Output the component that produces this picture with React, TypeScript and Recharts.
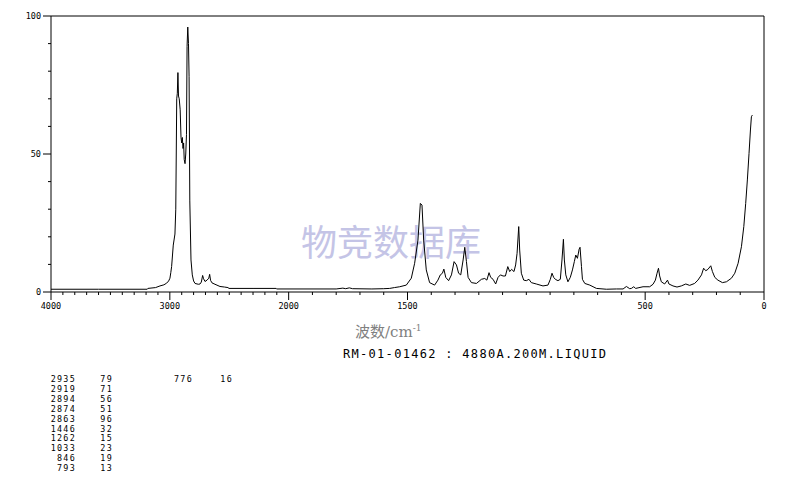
import { LineChart, Line, XAxis, YAxis, ReferenceLine } from "recharts";

// spectrum (cm-1, intensity)
const wavenumbers = [
  4000, 3600, 3190, 3185, 3120, 3083, 3050, 3027, 3010, 2999, 2992, 2985, 2971, 2957, 2950, 2946,
  2942, 2937, 2932, 2927, 2921, 2913, 2906, 2900, 2895, 2889, 2884, 2879, 2872, 2866, 2860, 2855,
  2849, 2843, 2838, 2832, 2822, 2811, 2800, 2788, 2760, 2746, 2735, 2724, 2716, 2704, 2687, 2672,
  2665, 2657, 2645, 2620, 2578, 2540, 2511, 2502, 2300, 2105, 2100, 1800, 1772, 1760, 1745, 1731,
  1650, 1600, 1575, 1555, 1533, 1505, 1484, 1470, 1456, 1446, 1439, 1432, 1421, 1407, 1386, 1372,
  1362, 1353, 1347, 1339, 1327, 1315, 1304, 1294, 1285, 1276, 1266, 1259, 1252, 1245, 1231, 1210,
  1189, 1175, 1166, 1157, 1150, 1140, 1129, 1119, 1109, 1098, 1088, 1078, 1070, 1062, 1052, 1045,
  1039, 1032, 1028, 1021, 1011, 1000, 989, 979, 958, 930, 909, 899, 892, 885, 878, 867,
  857, 850, 844, 840, 834, 825, 815, 806, 798, 792, 785, 778, 774, 768, 764, 754,
  733, 705, 663, 621, 593, 579, 565, 558, 548, 540, 530, 509, 481, 467, 457, 450,
  444, 439, 432, 418, 406, 400, 383, 366, 348, 329, 313, 292, 278, 263, 254, 245,
  236, 224, 217, 207, 194, 175, 158, 137, 123, 109, 95, 85, 77, 70, 63, 57,
  53, 49,
];
const intensities = [
  1.0, 1.0, 1.0, 1.3, 1.6, 2.2, 2.6, 3.2, 4.0, 5.0, 7.0, 9.2, 17, 21, 30, 50,
  70, 72, 79.5, 71, 70, 66, 56, 54, 56, 52, 54, 48, 46.5, 50, 57, 89,
  96, 90, 78, 33, 11.6, 6.2, 4.0, 3.1, 2.8, 2.9, 3.6, 6.0, 4.8, 3.8, 4.3, 5.0,
  6.4, 4.2, 3.3, 2.8, 2.0, 1.8, 1.6, 1.3, 1.3, 1.3, 1.1, 1.1, 1.4, 1.2, 1.5, 1.2,
  1.1, 1.2, 1.3, 1.6, 1.9, 2.5, 5.0, 10.4, 18.8, 32.1, 31.5, 18.8, 8.0, 3.4, 2.5, 4.3,
  6.2, 6.8, 8.3, 5.3, 4.1, 6.2, 11.0, 9.8, 6.8, 6.2, 11.6, 16.2, 11.0, 5.3, 3.4, 3.1,
  4.6, 4.9, 4.3, 7.0, 5.3, 4.6, 2.9, 5.3, 6.2, 5.8, 5.8, 9.2, 7.4, 8.2, 7.4, 9.8,
  14.0, 23.7, 15.2, 6.8, 4.3, 4.1, 4.6, 3.4, 2.9, 2.2, 2.5, 4.6, 6.8, 5.3, 4.6, 4.1,
  4.6, 11.6, 19.1, 11.6, 6.2, 3.7, 5.3, 8.0, 11.0, 13.4, 12.2, 15.5, 16.2, 9.2, 4.6, 3.1,
  2.5, 1.3, 1.0, 1.1, 1.1, 2.0, 1.2, 1.3, 1.9, 1.3, 1.5, 1.9, 1.9, 2.8, 4.3, 6.8,
  8.6, 5.8, 3.7, 2.9, 4.3, 2.9, 2.2, 1.8, 2.2, 2.9, 2.4, 3.1, 4.3, 6.2, 8.6, 7.7,
  8.2, 9.5, 7.4, 5.3, 4.3, 3.4, 3.7, 5.0, 6.8, 10.4, 16.4, 23.7, 32.1, 40.6, 50.2, 58.7,
  63.5, 64.1,
];

// peak list printed below the chart
const peakWn = [2935, 2919, 2894, 2874, 2863, 1446, 1262, 1033, 846, 793];
const peakInt = [79, 71, 56, 51, 96, 32, 15, 23, 19, 13];
const peakWn2 = [776];
const peakInt2 = [16];

const xLabelTicks = [4000, 3000, 2000, 1500, 500, 0];
const yTicks = [0, 10, 20, 30, 40, 50, 60, 70, 80, 90, 100];
const yLabelTicks = [0, 50, 100];

// above 2000 cm-1 the axis is squeezed to half scale
const toAxis = (wn: number) => (wn <= 2000 ? wn : 2000 + (wn - 2000) / 2);
const fromAxis = (p: number) => (p <= 2000 ? p : 2000 + (p - 2000) * 2);

const data = wavenumbers.map((wn, i) => ({ p: toAxis(wn), v: intensities[i] }));
const xTicks = Array.from({ length: 41 }, (_, i) => toAxis(i * 100));

const mono = "'DejaVu Sans Mono', 'Liberation Mono', monospace";
const rowH = 9.9;

function XTick(props: any) {
  const { x, y, payload } = props;
  const wn = Math.round(fromAxis(payload.value));
  const major = xLabelTicks.includes(wn);
  return (
    <g>
      <line x1={x} x2={x} y1={y} y2={y + (major ? 8 : 3)} stroke="#000" />
      {major && (
        <text x={x} y={y + 16.5} textAnchor="middle" fontSize={8.5} fontFamily={mono} fill="#000">
          {wn}
        </text>
      )}
    </g>
  );
}

function YTick(props: any) {
  const { x, y, payload } = props;
  const major = yLabelTicks.includes(payload.value);
  return (
    <g>
      <line x1={x - (major ? 8 : 3)} x2={x} y1={y} y2={y} stroke="#000" />
      {major && (
        <text x={x - 10} y={y + 3} textAnchor="end" fontSize={8.5} fontFamily={mono} fill="#000">
          {payload.value}
        </text>
      )}
    </g>
  );
}

export default function App() {
  return (
    <div style={{ position: "absolute", left: 0, top: 0, width: 794, height: 482, background: "#fff" }}>
      <svg width={794} height={482} style={{ position: "absolute", left: 0, top: 0 }}>
        <text x={391} y={256} textAnchor="middle" fontSize={36} fill="#c4c4e6"
          fontFamily="'Noto Sans CJK SC', sans-serif">
          物竞数据库
        </text>
        <text x={355} y={337} fontSize={15} fill="#808080" fontFamily="'DejaVu Serif', 'Noto Sans CJK SC', serif">
          波数/cm<tspan fontSize={9} dy={-6}>-1</tspan>
        </text>
        <text x={343} y={358} fontSize={12} letterSpacing={1.3} fontFamily={mono} fill="#000">
          RM-01-01462 : 4880A.200M.LIQUID
        </text>
        {peakWn.map((wn, i) => (
          <g key={wn} fontSize={8.4} letterSpacing={1.3} fontFamily={mono} fill="#000">
            <text x={76} y={382 + i * rowH} textAnchor="end">{wn}</text>
            <text x={113} y={382 + i * rowH} textAnchor="end">{peakInt[i]}</text>
          </g>
        ))}
        {peakWn2.map((wn, i) => (
          <g key={wn} fontSize={8.4} letterSpacing={1.3} fontFamily={mono} fill="#000">
            <text x={193} y={382 + i * rowH} textAnchor="end">{wn}</text>
            <text x={233} y={382 + i * rowH} textAnchor="end">{peakInt2[i]}</text>
          </g>
        ))}
      </svg>
      <div style={{ position: "absolute", left: 0, top: 0 }}>
        <LineChart width={794} height={482} data={data}
          margin={{ top: 16, right: 30, left: 21, bottom: 160 }}>
          <XAxis dataKey="p" type="number" domain={[0, 3000]} reversed ticks={xTicks} interval={0}
            height={30} tickSize={0} tickMargin={0} tickLine={false} tick={XTick}
            axisLine={{ stroke: "#000" }} />
          <YAxis type="number" domain={[0, 100]} ticks={yTicks} interval={0} width={30}
            tickSize={0} tickMargin={0} tickLine={false} tick={YTick} axisLine={{ stroke: "#000" }} />
          <ReferenceLine y={100} stroke="#000" />
          <ReferenceLine x={0} stroke="#000" />
          <Line type="linear" dataKey="v" stroke="#000" strokeWidth={1} dot={false} activeDot={false}
            isAnimationActive={false} />
        </LineChart>
      </div>
    </div>
  );
}
